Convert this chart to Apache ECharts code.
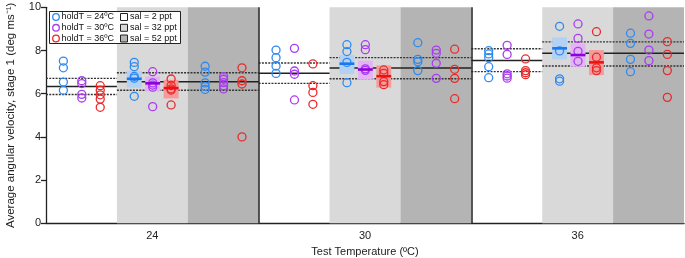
<!DOCTYPE html>
<html>
<head>
<meta charset="utf-8">
<script src="https://cdn.jsdelivr.net/npm/echarts@6/dist/echarts.min.js"></script>
<style>
html, body { margin: 0; padding: 0; background: #fff; }
#main { width: 685px; height: 258px; }
</style>
</head>
<body>
<div id="main"></div>
<script>
// categories
var testTemps = ['24', '30', '36'];
var holdLabels = ['holdT = 24ºC', 'holdT = 30ºC', 'holdT = 36ºC'];
var salLabels = ['sal = 2 ppt', 'sal = 32 ppt', 'sal = 52 ppt'];
var yTicks = [0, 2, 4, 6, 8, 10];

// raw points, one list per group: test 24 (sal 2,32,52), test 30 (...), test 36 (...)
var hold24 = [
  [7.51, 7.20, 6.54, 6.16], [7.45, 7.25, 6.80, 6.72, 5.88], [7.27, 7.00, 6.50, 6.33, 6.20],
  [8.02, 7.67, 7.28, 6.94], [8.27, 7.95, 7.45, 6.51], [8.36, 7.59, 7.48, 7.07],
  [7.99, 7.84, 7.67, 7.25, 6.74], [9.12, 7.98, 6.69, 6.58], [8.80, 8.33, 7.59, 7.02]
];
var hold30 = [
  [6.60, 6.47, 5.97, 5.80], [7.02, 6.50, 6.40, 6.30, 5.40], [6.79, 6.67, 6.51, 6.37, 6.22],
  [8.10, 7.05, 6.90, 5.71], [8.27, 8.04, 7.15, 7.08], [8.02, 7.87, 7.41, 6.71],
  [8.24, 7.82, 6.92, 6.82, 6.72], [9.23, 8.56, 7.96, 7.50], [9.60, 8.76, 8.02, 7.53]
];
var hold36 = [
  [6.37, 6.16, 5.95, 5.75, 5.37], [6.68, 6.38, 6.22, 6.17, 5.48], [7.20, 6.60, 6.45, 4.00],
  [7.38, 6.37, 6.06, 5.51], [7.10, 6.94, 6.56, 6.42], [8.06, 7.13, 6.71, 5.77],
  [7.61, 7.07, 6.97, 6.88], [8.87, 7.69, 7.20, 7.07], [8.41, 7.82, 7.07, 5.83]
];

// group means with CI, sal = 32 ppt only, per test temp
var mean24 = [6.69, 7.39, 8.10], lo24 = [6.28, 6.91, 7.59], hi24 = [7.06, 7.79, 8.61];
var mean30 = [6.48, 7.12, 7.79], lo30 = [6.10, 6.65, 7.25], hi30 = [6.80, 7.53, 8.33];
var mean36 = [6.26, 6.81, 7.45], lo36 = [5.78, 6.28, 6.86], hi36 = [6.64, 7.31, 8.02];

// model lines per test temp: sal 2 and sal 32/52
var fitLow = [6.33, 6.95, 7.54], fitLowLo = [5.96, 6.48, 7.02], fitLowHi = [6.71, 7.42, 8.08];
var fitHigh = [6.55, 7.19, 7.87], fitHighLo = [6.16, 6.69, 7.28], fitHighHi = [6.97, 7.67, 8.40];

var holdColors = ['#2f8af0', '#a83cef', '#ea2a2a'];
var barColors = ['#1877f2', '#8f00e0', '#ee1111'];
var boxColors = ['#b3d1f2', '#e3b3f5', '#f59a9a'];
var salColors = ['#ffffff', '#d9d9d9', '#b4b4b4'];
var offsets = [0.245, 0.505, 0.765];
var boxHalf = 0.105;

var chart = echarts.init(document.getElementById('main'));

var series = [];

// salinity background bands and panel separators
var bands = [];
for (var i = 0; i < 9; i++) {
  if (i % 3 == 0) continue;
  bands.push([{ xAxis: i, itemStyle: { color: salColors[i % 3] } }, { xAxis: i + 1 }]);
}
series.push({
  type: 'scatter',
  xAxisIndex: 1,
  data: [],
  silent: true,
  z: 1,
  markArea: { silent: true, data: bands },
  markLine: {
    silent: true,
    symbol: 'none',
    label: { show: false },
    lineStyle: { color: '#222', width: 1.5, type: 'solid' },
    data: [{ xAxis: 3 }, { xAxis: 6 }]
  }
});

// fit lines
function addSeg(x0, x1, v, dashed) {
  series.push({
    type: 'line',
    xAxisIndex: 1,
    data: [[x0, v], [x1, v]],
    symbol: 'none',
    silent: true,
    z: 2,
    lineStyle: dashed ? { color: '#333', width: 1.4, type: [2, 1.2] } : { color: '#222', width: 1.5 }
  });
}
for (var p = 0; p < 3; p++) {
  addSeg(p * 3, p * 3 + 1, fitLow[p], false);
  addSeg(p * 3, p * 3 + 1, fitLowLo[p], true);
  addSeg(p * 3, p * 3 + 1, fitLowHi[p], true);
  addSeg(p * 3 + 1, p * 3 + 3, fitHigh[p], false);
  addSeg(p * 3 + 1, p * 3 + 3, fitHighLo[p], true);
  addSeg(p * 3 + 1, p * 3 + 3, fitHighHi[p], true);
}

var holdData = [hold24, hold30, hold36];
var means = [mean24, mean30, mean36];
var los = [lo24, lo30, lo36];
var his = [hi24, hi30, hi36];

for (var h = 0; h < 3; h++) {
  var boxData = [];
  for (var p = 0; p < 3; p++) {
    boxData.push([p * 3 + 1 + offsets[h], means[h][p], los[h][p], his[h][p]]);
  }
  // CI boxes
  series.push({
    type: 'custom',
    xAxisIndex: 1,
    z: 3,
    silent: true,
    encode: { x: 0, y: [1, 2, 3] },
    itemStyle: { color: boxColors[h] },
    renderItem: function (params, api) {
      var x = api.value(0);
      var a = api.coord([x - boxHalf, api.value(2)]);
      var b = api.coord([x + boxHalf, api.value(3)]);
      return { type: 'rect', shape: { x: a[0], y: b[1], width: b[0] - a[0], height: a[1] - b[1] }, style: { fill: api.visual('color') } };
    },
    data: boxData
  });
  // points
  var pts = [];
  for (var g = 0; g < 9; g++) {
    for (var k = 0; k < holdData[h][g].length; k++) {
      pts.push([g + offsets[h], holdData[h][g][k]]);
    }
  }
  series.push({
    type: 'scatter',
    name: holdLabels[h],
    xAxisIndex: 1,
    z: 4,
    symbol: 'circle',
    symbolSize: 8,
    itemStyle: { color: 'rgba(0,0,0,0)', borderColor: holdColors[h], borderWidth: 1.3, opacity: 1 },
    data: pts
  });
  // mean bars
  series.push({
    type: 'custom',
    xAxisIndex: 1,
    z: 5,
    silent: true,
    encode: { x: 0, y: 1 },
    itemStyle: { color: barColors[h] },
    renderItem: function (params, api) {
      var x = api.value(0);
      var a = api.coord([x - boxHalf, api.value(1)]);
      var b = api.coord([x + boxHalf, api.value(1)]);
      return { type: 'rect', shape: { x: a[0], y: a[1] - 1.3, width: b[0] - a[0], height: 2.6 }, style: { fill: api.visual('color') } };
    },
    data: boxData
  });
}

// legend box
var legendFont = '9px "Liberation Sans", Arial';
var legendItems = [{ type: 'rect', z: 100, shape: { x: 49.5, y: 11.5, width: 131, height: 32 }, style: { fill: '#fff', stroke: '#222', lineWidth: 1 } }];
var rows = [17, 27.8, 38.5];
for (var r = 0; r < 3; r++) {
  legendItems.push({ type: 'circle', z: 101, shape: { cx: 56, cy: rows[r], r: 3.3 }, style: { fill: 'none', stroke: holdColors[r], lineWidth: 1.3 } });
  legendItems.push({ type: 'text', z: 101, x: 61.5, y: rows[r], style: { text: holdLabels[r], fill: '#111', font: legendFont, verticalAlign: 'middle' } });
  legendItems.push({ type: 'rect', z: 101, shape: { x: 120.5, y: rows[r] - 3.5, width: 7, height: 7 }, style: { fill: salColors[r], stroke: '#222', lineWidth: 1 } });
  legendItems.push({ type: 'text', z: 101, x: 130, y: rows[r], style: { text: salLabels[r], fill: '#111', font: legendFont, verticalAlign: 'middle' } });
}

chart.setOption({
  animation: false,
  textStyle: { fontFamily: '"Liberation Sans", Arial, sans-serif' },
  grid: { left: 46, right: 1, top: 7.3, bottom: 34.7, containLabel: false, outerBoundsMode: 'none' },
  xAxis: [
    {
      type: 'category',
      data: testTemps,
      position: 'bottom',
      offset: 3,
      axisLine: { lineStyle: { color: '#222', width: 1.3 } },
      axisTick: { length: 5, lineStyle: { color: '#222', width: 1.3 } },
      axisLabel: { margin: 4, fontSize: 11, color: '#222' },
      splitLine: { show: false },
      name: 'Test Temperature (ºC)',
      nameLocation: 'middle',
      nameGap: 19,
      nameTextStyle: { fontSize: 11, color: '#222' }
    },
    { type: 'value', min: 0, max: 9, show: false }
  ],
  yAxis: {
    type: 'value',
    min: yTicks[0],
    max: yTicks[yTicks.length - 1],
    interval: 2,
    offset: 2,
    axisLine: { show: true, lineStyle: { color: '#222', width: 1.3 } },
    axisTick: { show: true, length: 5, lineStyle: { color: '#222', width: 1.3 } },
    axisLabel: { margin: 3, fontSize: 11, color: '#222' },
    splitLine: { show: false },
    name: 'Average angular velocity, stage 1 (deg ms⁻¹)',
    nameLocation: 'middle',
    nameRotate: 90,
    nameGap: 27,
    nameTextStyle: { fontSize: 11.5, color: '#222' }
  },
  graphic: { elements: legendItems },
  series: series
});
</script>
</body>
</html>
